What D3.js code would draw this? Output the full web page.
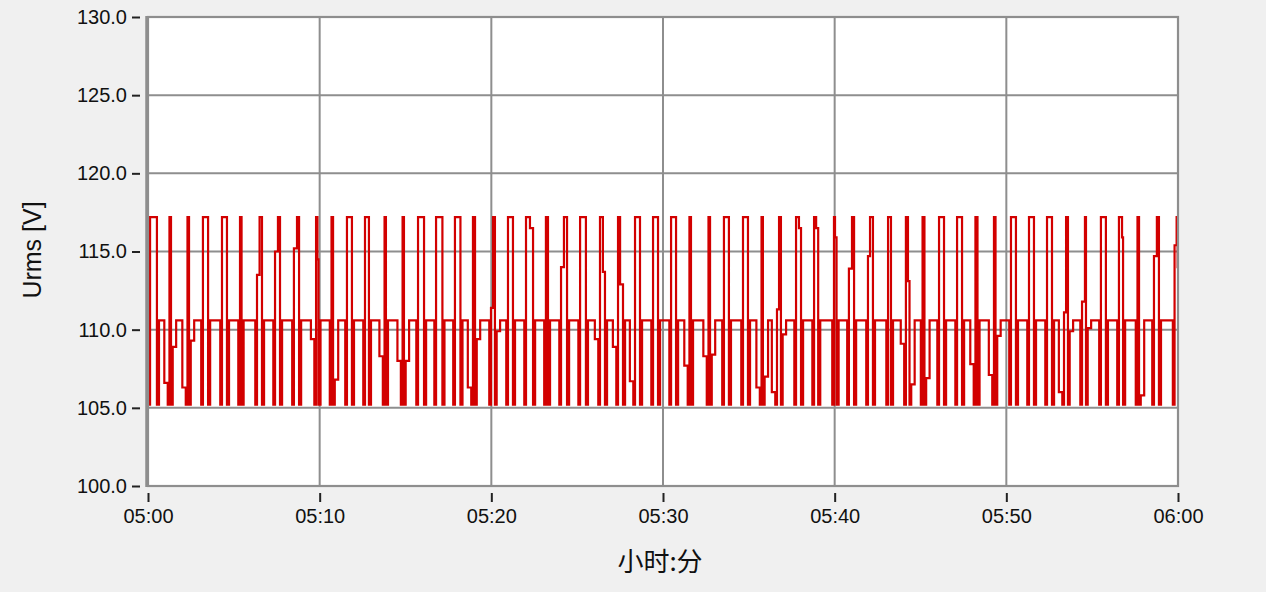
<!DOCTYPE html>
<html>
<head>
<meta charset="utf-8">
<script src="https://cdn.jsdelivr.net/npm/d3@7"></script>
<style>
  html, body { margin: 0; padding: 0; background: #f0f0f0; }
  svg { display: block; }
  .tick text { font-family: "Liberation Sans", Arial, sans-serif; font-size: 20px; fill: #111; }
</style>
</head>
<body>
<svg id="chart" width="1266" height="592"></svg>
<script>
// ---- data (minutes after 05:00, volts) ----
const yTicks = [100, 105, 110, 115, 120, 125, 130];
const yTickLabels = ["100.0", "105.0", "110.0", "115.0", "120.0", "125.0", "130.0"];
const xTicks = [0, 10, 20, 30, 40, 50, 60];
const xTickLabels = ["05:00", "05:10", "05:20", "05:30", "05:40", "05:50", "06:00"];
const yTitle = "Urms [V]";
const xTitle = "小时:分";

const levelTop = 117.2;      // peak level
const levelPlateau = 110.6;  // resting level
const levelBottom = 105.2;   // trough level
const endValue = 114.0;      // value at 06:00

// each cycle: rise start, top reached, top left, bottom reached (minutes),
// intermediate shoulder level, dip before trough, dip after trough
const riseStart = [0.12,1.25,2.30,3.20,4.31,5.36,6.35,7.40,8.50,9.79,10.69,11.59,12.64,13.78,14.83,15.73,16.78,17.88,18.93,19.98,20.97,22.02,23.18,24.06,25.17,26.33,27.38,28.37,29.42,30.47,31.54,32.65,33.55,34.66,35.74,36.64,37.75,38.80,39.96,40.83,41.94,43.11,44.15,45.12,46.08,47.13,48.20,49.28,50.27,51.32,52.37,53.36,54.41,55.51,56.56,57.64,58.60,59.80];
const topStart  = [0.12,1.25,2.30,3.20,4.31,5.36,6.50,7.57,8.68,9.79,10.69,11.59,12.64,13.78,14.83,15.73,16.78,17.88,18.93,20.10,20.97,22.02,23.18,24.23,25.17,26.33,27.38,28.37,29.42,30.47,31.54,32.65,33.55,34.66,35.74,36.76,37.75,38.80,39.96,41.01,42.06,43.11,44.15,45.12,46.08,47.13,48.20,49.28,50.27,51.32,52.37,53.48,54.58,55.51,56.56,57.64,58.77,59.92];
const topEnd    = [0.52,1.34,2.39,3.50,4.60,5.45,6.64,7.69,8.80,9.87,10.78,11.88,12.87,13.86,14.91,16.08,17.15,18.20,19.05,20.21,21.26,22.25,23.30,24.41,25.51,26.50,27.50,28.66,29.71,30.76,31.63,32.74,33.84,34.95,35.82,36.87,37.92,38.92,40.02,41.13,42.23,43.28,44.27,45.23,46.37,47.42,48.32,49.37,50.56,51.61,52.66,53.59,54.64,55.80,56.74,57.73,58.89,59.98];
const fallEnd   = [0.52,1.34,2.39,3.50,4.60,5.45,6.64,7.69,8.80,9.93,10.78,11.88,12.87,13.86,14.91,16.08,17.15,18.20,19.05,20.21,21.26,22.43,23.30,24.41,25.51,26.62,27.67,28.66,29.71,30.76,31.63,32.74,33.84,34.95,35.82,36.87,38.04,39.04,40.11,41.13,42.23,43.28,44.36,45.23,46.37,47.42,48.32,49.37,50.56,51.61,52.66,53.59,54.64,55.80,56.80,57.73,58.89,59.98];
const shoulder  = [null,null,null,null,null,null,113.5,115.0,115.2,114.5,null,null,null,null,null,null,null,null,null,111.4,null,116.5,null,114.0,null,113.7,112.9,null,null,null,null,null,null,null,null,111.3,116.5,116.5,115.9,113.9,114.7,null,113.1,null,null,null,null,null,null,null,null,111.1,111.8,null,115.9,null,114.7,115.4];
const preDip    = [null,106.6,106.3,null,null,null,null,null,null,109.4,null,null,null,108.3,108.0,null,null,null,106.3,null,null,null,null,null,null,109.4,108.9,106.7,null,null,107.7,108.3,null,null,106.3,106.0,null,null,null,null,null,null,109.1,null,null,null,107.8,107.1,null,null,null,106.0,null,null,null,null,null,null];
const postDip   = [null,108.9,109.3,null,null,null,null,null,null,null,106.8,null,null,null,108.0,null,null,null,109.4,109.9,null,null,null,null,null,null,null,null,null,null,null,108.4,null,null,107.0,109.7,null,null,null,null,null,null,106.5,106.9,null,null,null,109.6,null,null,null,109.9,110.1,null,null,105.8,null,null];

// ---- build step series from the read values ----
const pts = [{ t: 0, v: levelBottom }];
riseStart.forEach((t0, i) => {
  const t1 = topStart[i], t2 = topEnd[i], t3 = fallEnd[i];
  if (i > 0) {
    if (preDip[i] !== null) pts.push({ t: t0 - 0.3, v: preDip[i] });
    pts.push({ t: t0 - 0.1, v: levelBottom });
  }
  if (t1 > t0) { pts.push({ t: t0, v: shoulder[i] }); pts.push({ t: t1, v: levelTop }); }
  else pts.push({ t: t0, v: levelTop });
  if (i === riseStart.length - 1) {
    pts.push({ t: t2, v: endValue });
    pts.push({ t: 60, v: endValue });
    return;
  }
  if (t3 > t2) { pts.push({ t: t2, v: shoulder[i] }); pts.push({ t: t3, v: levelBottom }); }
  else pts.push({ t: t2, v: levelBottom });
  if (postDip[i] !== null) { pts.push({ t: t3 + 0.1, v: postDip[i] }); pts.push({ t: t3 + 0.3, v: levelPlateau }); }
  else pts.push({ t: t3 + 0.12, v: levelPlateau });
});

// ---- layout ----
const svg = d3.select("#chart");
const L = 148, R = 1178, T = 17, B = 486;
const x = d3.scaleLinear().domain([0, 60]).range([L, R]);
const y = d3.scaleLinear().domain([100, 130]).range([B, T]);

svg.append("rect").attr("x", L).attr("y", T).attr("width", R - L).attr("height", B - T).attr("fill", "#fff");

// grid
const grid = svg.append("g").attr("stroke", "#8e8e8e").attr("stroke-width", 2);
yTicks.slice(1, -1).forEach(v => grid.append("line").attr("x1", L).attr("x2", R).attr("y1", y(v)).attr("y2", y(v)));
xTicks.slice(1, -1).forEach(v => grid.append("line").attr("x1", x(v)).attr("x2", x(v)).attr("y1", T).attr("y2", B));

// series
const line = d3.line().x(d => x(d.t)).y(d => y(d.v)).curve(d3.curveStepAfter);
svg.append("path").datum(pts).attr("d", line)
  .attr("fill", "none").attr("stroke", "#d20000").attr("stroke-width", 2.2)
  .attr("stroke-linejoin", "miter");

// frame
svg.append("rect").attr("x", L).attr("y", T).attr("width", R - L).attr("height", B - T)
  .attr("fill", "none").attr("stroke", "#8e8e8e").attr("stroke-width", 2.2);
svg.append("line").attr("x1", L - 1.5).attr("x2", L - 1.5).attr("y1", T - 1).attr("y2", B + 1)
  .attr("stroke", "#8e8e8e").attr("stroke-width", 2.5);

// axes
const yAxis = d3.axisLeft(y).tickValues(yTicks).tickFormat((d, i) => yTickLabels[i]).tickSize(8).tickPadding(5);
const gy = svg.append("g").attr("transform", `translate(${L - 8},0)`).call(yAxis);
gy.select(".domain").remove();
gy.selectAll(".tick line").attr("stroke", "#222").attr("stroke-width", 2);

const xAxis = d3.axisBottom(x).tickValues(xTicks).tickFormat((d, i) => xTickLabels[i]).tickSize(9).tickPadding(7);
const gx = svg.append("g").attr("transform", `translate(0,${B + 7})`).call(xAxis);
gx.select(".domain").remove();
gx.selectAll(".tick line").attr("stroke", "#222").attr("stroke-width", 2);

// titles
svg.append("text").attr("transform", "translate(41,250) rotate(-90)")
  .attr("text-anchor", "middle")
  .attr("font-family", "'Liberation Sans', Arial, sans-serif").attr("font-size", 25).attr("fill", "#111")
  .text(yTitle);
svg.append("text").attr("x", 660).attr("y", 571)
  .attr("text-anchor", "middle")
  .attr("font-family", "'Noto Sans CJK SC', sans-serif").attr("font-size", 26).attr("fill", "#111")
  .text(xTitle);
</script>
</body>
</html>
